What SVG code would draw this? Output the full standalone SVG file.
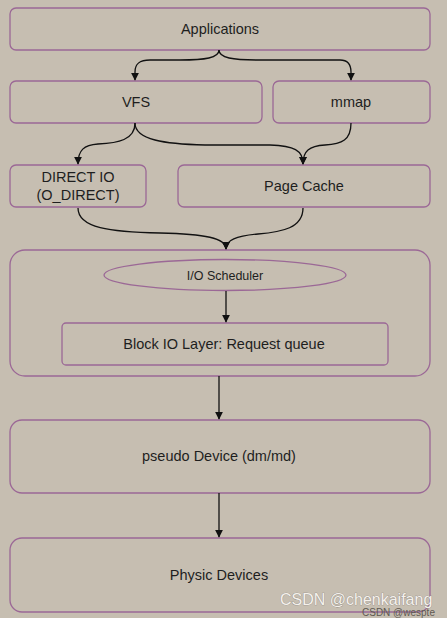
<svg xmlns="http://www.w3.org/2000/svg" width="447" height="618" viewBox="0 0 447 618">
<defs>
<style>
.box{fill:none;stroke:#9b6896;stroke-width:1.3}
.lbl{font-family:"Liberation Sans",Arial,sans-serif;font-size:14.5px;fill:#1e1e1e;text-anchor:middle}
.con{fill:none;stroke:#111;stroke-width:1.3}
.wm{font-family:"Liberation Sans",Arial,sans-serif;fill:#f4f1ec;stroke:#8a847c;stroke-width:0.6;paint-order:stroke}
</style>
<marker id="ah" viewBox="0 0 10 10" refX="9" refY="5" markerWidth="8" markerHeight="8" markerUnits="userSpaceOnUse" orient="auto">
<path d="M0,0 L10,5 L0,10 Z" fill="#111"/>
</marker>
</defs>
<rect width="447" height="618" fill="#c6beb1"/>
<g id="applications"><rect class="box" x="10" y="8" width="420" height="42" rx="6"/><text class="lbl" x="220" y="34">Applications</text></g>
<g id="vfs"><rect class="box" x="10" y="81" width="252" height="42" rx="6"/><text class="lbl" x="136" y="107">VFS</text></g>
<g id="mmap"><rect class="box" x="273" y="81" width="157" height="42" rx="6"/><text class="lbl" x="351" y="107">mmap</text></g>
<g id="directio"><rect class="box" x="10" y="165" width="136" height="42" rx="6"/><text class="lbl" x="78" y="182">DIRECT IO</text><text class="lbl" x="78" y="200">(O_DIRECT)</text></g>
<g id="pagecache"><rect class="box" x="178" y="165" width="252" height="42" rx="6"/><text class="lbl" x="304" y="191">Page Cache</text></g>
<g id="blocklayer"><rect class="box" x="10" y="250" width="420" height="126" rx="15"/></g>
<g id="scheduler"><ellipse class="box" cx="225" cy="275" rx="121" ry="15.5"/><text class="lbl" x="225" y="280" style="font-size:12.5px">I/O Scheduler</text></g>
<g id="requestqueue"><rect class="box" x="62" y="323" width="326" height="42" rx="4"/><text class="lbl" x="224" y="349">Block IO Layer: Request queue</text></g>
<g id="pseudo"><rect class="box" x="10" y="420" width="420" height="73" rx="12"/><text class="lbl" x="219" y="461">pseudo Device (dm/md)</text></g>
<g id="physic"><rect class="box" x="10" y="538" width="420" height="74" rx="12"/><text class="lbl" x="219" y="580">Physic Devices</text></g>
<g id="connectors">
<path class="con" marker-end="url(#ah)" d="M219,50 C219,58 205,60 180,60 L150,60 C139,60 135,64 135,72 L135,80"/>
<path class="con" marker-end="url(#ah)" d="M219,50 C219,58 233,60 258,60 L340,60 C348,60 351,64 351,72 L351,80"/>
<path class="con" marker-end="url(#ah)" d="M135,123 C135,140 118,143 98,144 C84,145 78,150 78,164"/>
<path class="con" marker-end="url(#ah)" d="M135,123 C135,140 165,144 205,145 L270,145 C294,146 303,150 303,164"/>
<path class="con" marker-end="url(#ah)" d="M351,123 C351,140 342,144 325,145 C309,146 303,151 303,164"/>
<path class="con" marker-end="url(#ah)" d="M78,208 C78,228 110,232 160,233 C205,234 226,238 226,249"/>
<path class="con" marker-end="url(#ah)" d="M303,208 C303,228 282,232 258,234 C236,236 226,240 226,249"/>
<path class="con" marker-end="url(#ah)" d="M226,291 L226,322"/>
<path class="con" marker-end="url(#ah)" d="M219,376 L219,419"/>
<path class="con" marker-end="url(#ah)" d="M219,493 L219,537"/>
</g>
<text class="wm" x="280" y="605" style="font-size:16px">CSDN @chenkaifang</text>
<text class="wm" x="362" y="616" style="font-size:10px;fill:#5e5952;stroke:none">CSDN @wespte</text>
</svg>
